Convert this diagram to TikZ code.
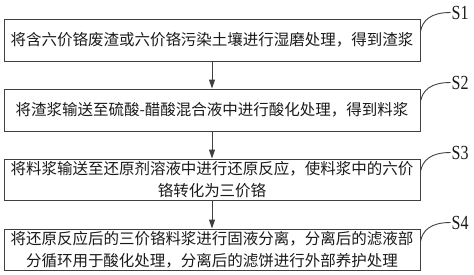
\documentclass[tikz,border=0pt]{standalone}
\usepackage{fontspec}
\setmainfont{Liberation Serif}
\newfontfamily\cjk{Noto Sans CJK SC}
\usetikzlibrary{arrows.meta}
\definecolor{linec}{HTML}{404040}
\definecolor{textc}{HTML}{1A1A1A}
\tikzset{
  stepbox/.style={draw=linec, line width=1pt, minimum width=416pt, inner xsep=4pt, inner ysep=0pt,
    text width=408pt, align=center,
    text=textc, font=\cjk\fontsize{15.5}{21.5}\selectfont},
  flowarrow/.style={draw=linec, line width=1pt, -{Triangle[length=9pt,width=6pt]}},
  leader/.style={draw=linec, line width=0.9pt},
  steplabel/.style={anchor=west, inner sep=0pt, text=textc, font=\fontsize{20}{20}\selectfont}
}
\begin{document}
\begin{tikzpicture}[x=1pt,y=-1pt]
\useasboundingbox (0,0) rectangle (474,274);
\node[stepbox, minimum height=42pt] (b1) at (212,40) {将含六价铬废渣或六价铬污染土壤进行湿磨处理，得到渣浆};
\node[stepbox, minimum height=42pt] (b2) at (212,110) {将渣浆输送至硫酸-醋酸混合液中进行酸化处理，得到料浆};
\node[stepbox, minimum height=41pt] (b3) at (212,179.5) {将料浆输送至还原剂溶液中进行还原反应，使料浆中的六价\\铬转化为三价铬};
\node[stepbox, minimum height=41pt] (b4) at (212,249.5) {将还原反应后的三价铬料浆进行固液分离，分离后的滤液部\\分循环用于酸化处理，分离后的滤饼进行外部养护处理};
\draw[flowarrow] (b1.south) -- (b2.north);
\draw[flowarrow] (b2.south) -- (b3.north);
\draw[flowarrow] (b3.south) -- (b4.north);
\foreach \b/\s in {b1/S1,b2/S2,b3/S3,b4/S4}{
  \coordinate (\b c) at ([xshift=30pt,yshift=6pt]\b.north east);
  \node[steplabel] (\b l) at ([xshift=1pt]\b c) {\scalebox{0.8}[1]{\s}};
  \draw[leader] ([yshift=-13pt]\b.north east) .. controls ([xshift=2pt,yshift=-2pt]\b.north east) and ([xshift=10pt,yshift=6pt]\b.north east) .. (\b c);
}
\end{tikzpicture}
\end{document}
